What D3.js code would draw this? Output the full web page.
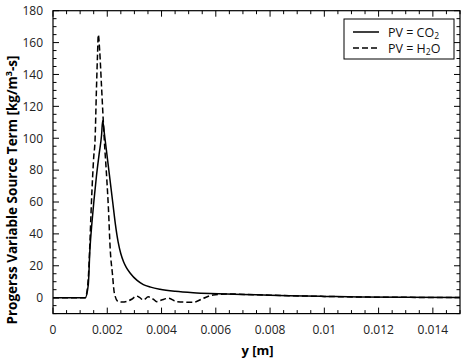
<!DOCTYPE html>
<html>
<head>
<meta charset="utf-8">
<script src="https://cdn.jsdelivr.net/npm/d3@7"></script>
<style>
  html, body { margin: 0; padding: 0; background: #fff; }
  svg { display: block; font-family: "Open Sans", "DejaVu Sans", sans-serif; }
</style>
</head>
<body>
<svg id="chart" width="474" height="362"></svg>
<script>
// progress variable source term along y, for the two PV choices
const co2X = [0, 0.00119, 0.0013, 0.00136, 0.00144, 0.00151, 0.0016, 0.0017, 0.00179, 0.00183,
  0.0019, 0.002, 0.0021, 0.0022, 0.0023, 0.0024, 0.0025, 0.0026, 0.0027, 0.00284, 0.0031, 0.00333,
  0.0036, 0.00394, 0.0045, 0.00517, 0.0058, 0.0064, 0.0075, 0.0087, 0.01, 0.0113, 0.013, 0.015];
const co2Y = [0, 0, 8, 30, 48, 61, 76, 90, 102, 111,
  102, 88, 74, 60, 46, 35, 27.5, 22.5, 19, 15.5, 10.8, 8.2,
  6.6, 5.3, 4, 3.1, 2.6, 2.3, 1.8, 1.2, 0.8, 0.4, 0.2, 0.1];

const h2oX = [0, 0.00119, 0.0013, 0.00135, 0.00142, 0.0015, 0.00155, 0.0016, 0.00164, 0.00167,
  0.00172, 0.00179, 0.00189, 0.00198, 0.00204, 0.00211, 0.00219, 0.00226, 0.0024, 0.00255,
  0.00272, 0.0029, 0.00308, 0.0032, 0.00333, 0.00351, 0.0037, 0.00382, 0.004, 0.00425,
  0.00456, 0.00517, 0.00554, 0.0059, 0.0064, 0.0075, 0.0087, 0.01, 0.0113, 0.013, 0.015];
const h2oY = [0, 0, 12, 30, 61, 88, 99, 130, 152, 165,
  155, 132, 99, 75, 57, 30, 15, 3, -2.5, -2.8,
  -2.3, -1, 1, 0, -1.5, 0.5, -1, -2.5, -1.5, -0.4,
  -2.5, -2.9, -0.4, 1.7, 2.3, 1.8, 1.2, 0.8, 0.4, 0.2, 0.1];

const xTicks = [0, 0.002, 0.004, 0.006, 0.008, 0.01, 0.012, 0.014];
const yTicks = [0, 20, 40, 60, 80, 100, 120, 140, 160, 180];

const svg = d3.select("#chart");
const margin = { left: 53, right: 14, top: 10.7, bottom: 48.4 };
const width = 474, height = 362;

const x = d3.scaleLinear().domain([0, 0.015]).range([margin.left, width - margin.right]);
const y = d3.scaleLinear().domain([-10, 180]).range([height - margin.bottom, margin.top]);

const xMinor = d3.range(0, 0.01501, 0.0005);
const yMinor = d3.range(-10, 180.1, 5);

// frame
svg.append("rect")
    .attr("x", x(0)).attr("y", y(180))
    .attr("width", x(0.015) - x(0)).attr("height", y(-10) - y(180))
    .attr("fill", "none").attr("stroke", "#000").attr("stroke-width", 1.2);

// inward ticks on all four sides
const tickG = svg.append("g").attr("stroke", "#000").attr("stroke-width", 1);
const isMajorX = v => Math.abs(v / 0.002 - Math.round(v / 0.002)) < 1e-6;
const isMajorY = v => v % 20 === 0;

xMinor.forEach(v => {
  const len = isMajorX(v) ? 6 : 3.5;
  tickG.append("line").attr("x1", x(v)).attr("x2", x(v)).attr("y1", y(-10)).attr("y2", y(-10) - len);
  tickG.append("line").attr("x1", x(v)).attr("x2", x(v)).attr("y1", y(180)).attr("y2", y(180) + len);
});
yMinor.forEach(v => {
  const len = isMajorY(v) ? 6 : 3.5;
  tickG.append("line").attr("x1", x(0)).attr("x2", x(0) + len).attr("y1", y(v)).attr("y2", y(v));
  tickG.append("line").attr("x1", x(0.015)).attr("x2", x(0.015) - len).attr("y1", y(v)).attr("y2", y(v));
});

// tick labels
svg.append("g")
    .attr("font-size", 12).attr("fill", "#222").attr("text-anchor", "middle")
  .selectAll("text")
  .data(xTicks)
  .join("text")
    .attr("x", d => x(d))
    .attr("y", y(-10) + 20)
    .text(d => d3.format("~g")(d));

svg.append("g")
    .attr("font-size", 12).attr("fill", "#222").attr("text-anchor", "end")
  .selectAll("text")
  .data(yTicks)
  .join("text")
    .attr("x", x(0) - 10)
    .attr("y", d => y(d) + 4.3)
    .text(d => d);

// axis titles
svg.append("text")
    .attr("x", (x(0) + x(0.015)) / 2 + 1)
    .attr("y", 355)
    .attr("text-anchor", "middle")
    .attr("font-size", 13).attr("font-weight", "bold")
    .text("y [m]");

const yTitle = svg.append("text")
    .attr("transform", "translate(16.5,190) rotate(-90)")
    .attr("text-anchor", "middle")
    .attr("font-size", 13.5).attr("font-weight", "bold");
yTitle.append("tspan").text("Progerss Variable Source Term [kg/m");
yTitle.append("tspan").attr("font-size", 9).attr("dy", -5).text("3");
yTitle.append("tspan").attr("dy", 5).text("-s]");

// curves
const line = d3.line()
    .x(d => x(d[0]))
    .y(d => y(d[1]))
    .curve(d3.curveMonotoneX);

svg.append("path")
    .datum(d3.zip(co2X, co2Y))
    .attr("fill", "none").attr("stroke", "#000").attr("stroke-width", 1.5)
    .attr("d", line);

svg.append("path")
    .datum(d3.zip(h2oX, h2oY))
    .attr("fill", "none").attr("stroke", "#000").attr("stroke-width", 1.5)
    .attr("stroke-dasharray", "6,3")
    .attr("d", line);

// legend
const legend = svg.append("g");
legend.append("rect")
    .attr("x", 344).attr("y", 19).attr("width", 110).attr("height", 40)
    .attr("fill", "#fff").attr("stroke", "#000").attr("stroke-width", 1);

const legendRows = [
  { dash: null, name: "CO", sub: "2", tail: "" },
  { dash: "6,3", name: "H", sub: "2", tail: "O" }
];
legendRows.forEach((r, i) => {
  const cy = 32 + i * 16;
  legend.append("line")
      .attr("x1", 353).attr("x2", 379).attr("y1", cy).attr("y2", cy)
      .attr("stroke", "#000").attr("stroke-width", 1.5)
      .attr("stroke-dasharray", r.dash);
  const t = legend.append("text")
      .attr("x", 388).attr("y", cy + 4.5)
      .attr("font-size", 12.5).attr("fill", "#111");
  t.append("tspan").text("PV = " + r.name);
  t.append("tspan").attr("font-size", 8.5).attr("dy", 2.5).text(r.sub);
  if (r.tail) t.append("tspan").attr("dy", -2.5).text(r.tail);
});
</script>
</body>
</html>
